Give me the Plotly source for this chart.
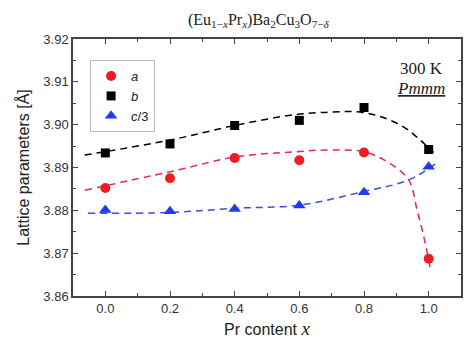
import plotly.graph_objects as go

# Measured data
x_pts = [0.0, 0.2, 0.4, 0.6, 0.8, 1.0]
a_vals = [3.8852, 3.8875, 3.8922, 3.8917, 3.8935, 3.8687]
b_vals = [3.8934, 3.8955, 3.8998, 3.9010, 3.9040, 3.8942]
c3_vals = [3.8801, 3.8798, 3.8803, 3.8811, 3.8842, 3.8902]

# Guide (fit) curves
a_fit_x = [-0.064, 0.2, 0.406, 0.592, 0.695, 0.798, 0.870, 0.938, 0.964, 0.985, 1.005]
a_fit_y = [3.8847, 3.8890, 3.8925, 3.8937, 3.8941, 3.8937, 3.8914, 3.8871, 3.8801, 3.8738, 3.8665]
b_fit_x = [-0.064, 0.2, 0.406, 0.592, 0.695, 0.778, 0.850, 0.922, 0.974, 1.015]
b_fit_y = [3.8929, 3.8964, 3.8999, 3.9024, 3.9029, 3.9030, 3.9019, 3.8995, 3.8964, 3.8935]
c_fit_x = [-0.054, 0.2, 0.406, 0.6, 0.799, 0.938, 1.031]
c_fit_y = [3.8793, 3.8795, 3.8805, 3.8812, 3.8844, 3.8871, 3.8914]

x_ticks = [0.0, 0.2, 0.4, 0.6, 0.8, 1.0]
x_ticklabels = ["0.0", "0.2", "0.4", "0.6", "0.8", "1.0"]
y_ticks = [3.86, 3.87, 3.88, 3.89, 3.90, 3.91, 3.92]
y_ticklabels = ["3.86", "3.87", "3.88", "3.89", "3.90", "3.91", "3.92"]

RED = "#ee1c25"
RED_LINE = "#e3285a"
BLUE = "#2438f0"
BLUE_LINE = "#3a4de0"

fig = go.Figure()
dash = "7px,5px"
fig.add_trace(go.Scatter(x=b_fit_x, y=b_fit_y, mode="lines", line=dict(color="black", width=1.5, dash=dash, shape="spline"), showlegend=False, hoverinfo="skip"))
fig.add_trace(go.Scatter(x=a_fit_x, y=a_fit_y, mode="lines", line=dict(color=RED_LINE, width=1.5, dash=dash, shape="spline"), showlegend=False, hoverinfo="skip"))
fig.add_trace(go.Scatter(x=c_fit_x, y=c_fit_y, mode="lines", line=dict(color=BLUE_LINE, width=1.5, dash=dash, shape="spline"), showlegend=False, hoverinfo="skip"))

fig.add_trace(go.Scatter(x=x_pts, y=a_vals, mode="markers", name="<i>a</i>",
                         marker=dict(symbol="circle", size=10, color=RED)))
fig.add_trace(go.Scatter(x=x_pts, y=b_vals, mode="markers", name="<i>b</i>",
                         marker=dict(symbol="square", size=9, color="black")))
fig.add_trace(go.Scatter(x=x_pts, y=c3_vals, mode="markers", name="<i>c</i>/3",
                         marker=dict(symbol="triangle-up", size=11, color=BLUE)))

axis_common = dict(showline=True, linecolor="#444", linewidth=1.5, mirror="ticks",
                   ticks="inside", tickcolor="#444", ticklen=5, tickwidth=1,
                   showgrid=False, zeroline=False,
                   tickfont=dict(family="Liberation Sans, Arial", size=13, color="#333"))

fig.update_xaxes(range=[-0.1, 1.1], tickvals=x_ticks, ticktext=x_ticklabels,
                 minor=dict(dtick=0.1, tick0=0, ticks="inside", ticklen=3, tickcolor="#444"),
                 title=dict(text="Pr content <span style='font-family:Liberation Serif;font-style:italic;font-size:19px'>x</span>",
                            font=dict(family="Liberation Sans, Arial", size=16, color="#222"), standoff=8),
                 **axis_common)
fig.update_yaxes(range=[3.86, 3.92], tickvals=y_ticks, ticktext=y_ticklabels,
                 minor=dict(dtick=0.005, tick0=3.86, ticks="inside", ticklen=3, tickcolor="#444"),
                 title=dict(text="Lattice parameters [Å]",
                            font=dict(family="Liberation Sans, Arial", size=16, color="#222"), standoff=10),
                 **axis_common)

fig.update_layout(
    width=474, height=349,
    margin=dict(l=73, r=13, t=39, b=53),
    plot_bgcolor="white", paper_bgcolor="white",
    title=dict(text="(Eu<sub>1−<i>x</i></sub>Pr<sub><i>x</i></sub>)Ba<sub>2</sub>Cu<sub>3</sub>O<sub>7−<i>δ</i></sub>",
               x=0.545, xanchor="center", y=0.945, yanchor="middle",
               font=dict(family="Liberation Serif, Times New Roman", size=16, color="#222")),
    legend=dict(x=0.044, y=0.918, xanchor="left", yanchor="top",
                bordercolor="#bbb", borderwidth=1, bgcolor="white",
                font=dict(family="Liberation Sans, Arial", size=13, color="#222"),
                itemwidth=30, tracegroupgap=0),
    annotations=[
        dict(text="300 K", x=0.897, y=0.887, xref="paper", yref="paper", showarrow=False,
             xanchor="center", yanchor="middle",
             font=dict(family="Liberation Serif, Times New Roman", size=17, color="#222")),
        dict(text="<i><u>Pmmm</u></i>", x=0.897, y=0.809, xref="paper", yref="paper", showarrow=False,
             xanchor="center", yanchor="middle",
             font=dict(family="Liberation Serif, Times New Roman", size=17, color="#222")),
    ],
)

fig.write_html("out.html")
